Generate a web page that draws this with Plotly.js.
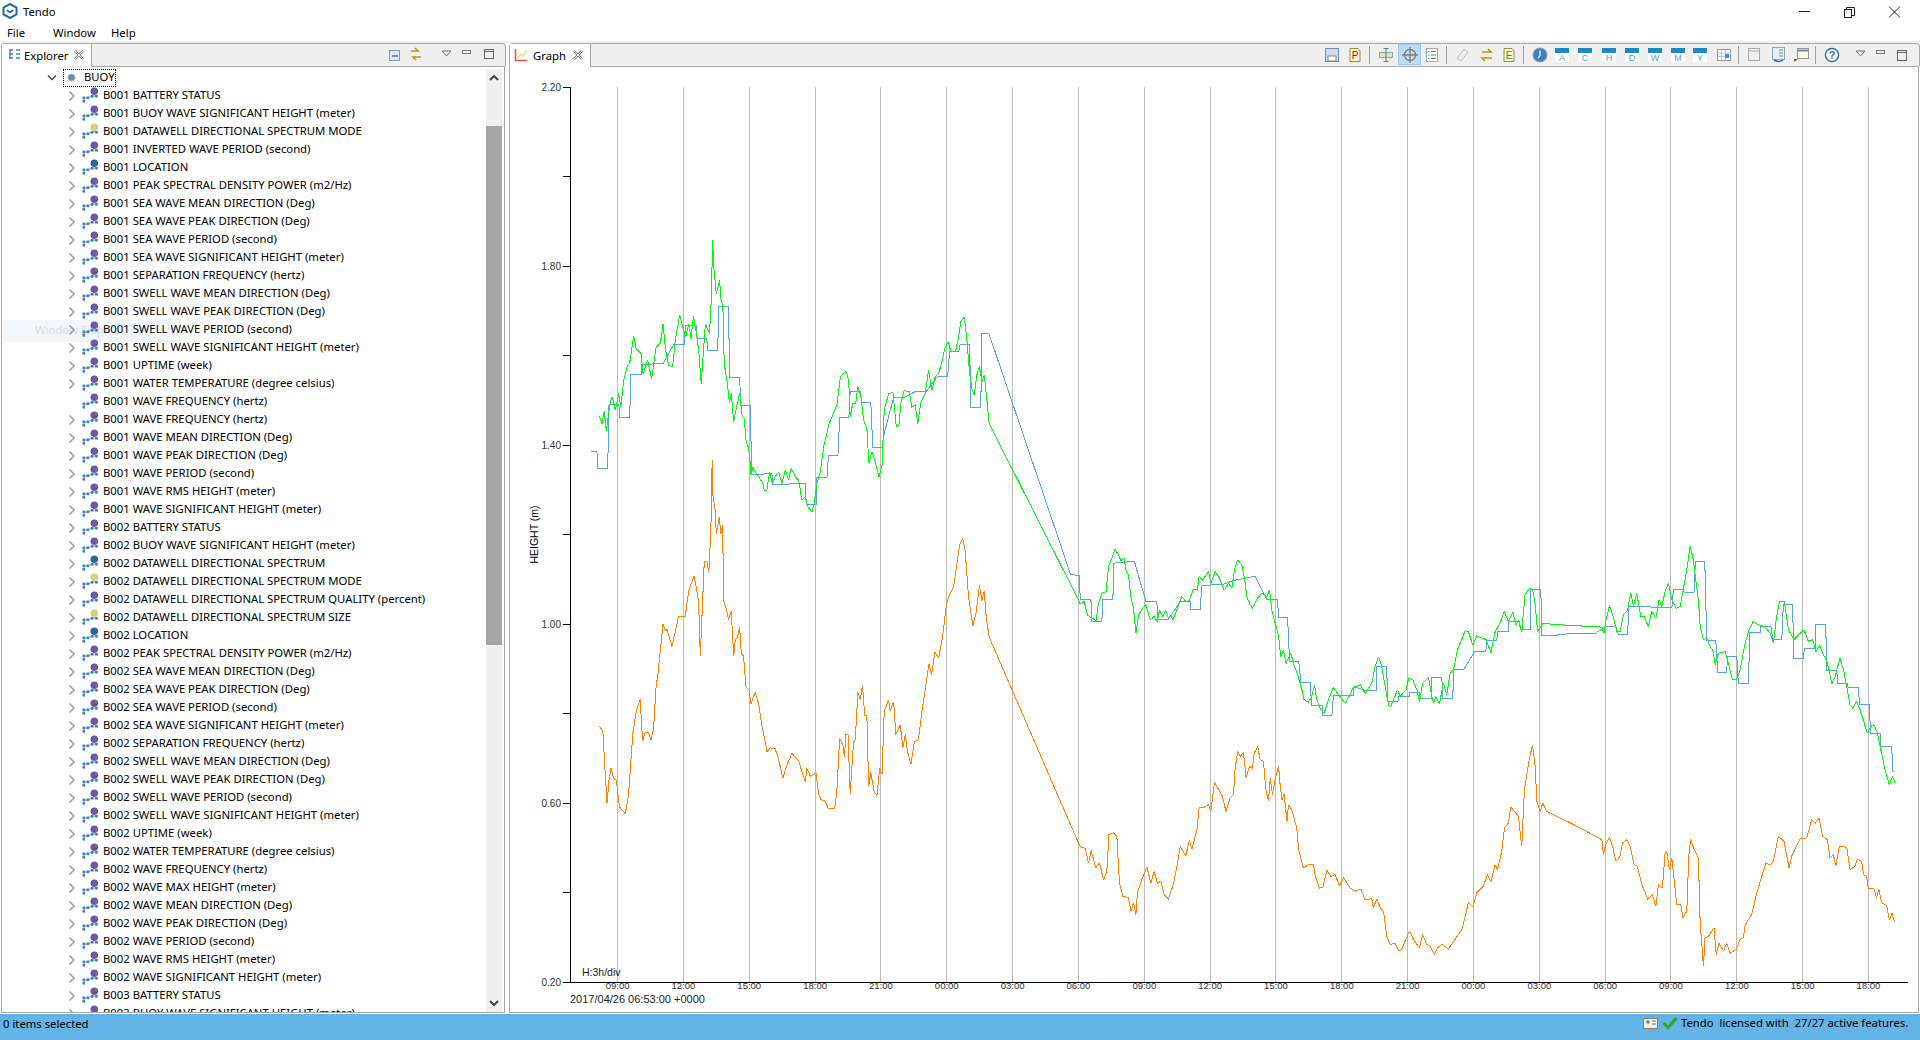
<!DOCTYPE html>
<html><head><meta charset="utf-8"><title>Tendo</title>
<script src="https://cdn.plot.ly/plotly-3.0.1.min.js"></script>
<style>
html,body{margin:0;padding:0;width:1920px;height:1040px;overflow:hidden;background:#fff;font-family:"Noto Sans",sans-serif;color:#000}
.abs{position:absolute;white-space:nowrap}
.t{font-size:11.3px;line-height:16px}
#plot{position:absolute;left:0;top:0;width:1920px;height:1040px;z-index:3;pointer-events:none}
#plot path.js-line{shape-rendering:crispEdges}
</style></head><body>
<div id="chrome"></div>
<div id="plot"></div>
<script>
// ---------- chart data: hours since 2017-04-26 00:00 UTC, height in metres ----------
const tickHours=[9,12,15,18,21,24,27,30,33,36,39,42,45,48,51,54,57,60,63,66];
const tickLabels=["09:00","12:00","15:00","18:00","21:00","00:00","03:00","06:00","09:00","12:00","15:00","18:00","21:00","00:00","03:00","06:00","09:00","12:00","15:00","18:00"];
const heightTicks=[0.2,0.4,0.6,0.8,1.0,1.2,1.4,1.6,1.8,2.0,2.2];
const heightTickLabels=["0.20","","0.60","","1.00","","1.40","","1.80","","2.20"];

const greenHours=[8.18,8.29,8.39,8.49,8.59,8.67,8.76,8.90,9.05,9.15,9.28,9.43,9.55,9.61,9.73,9.85,10.07,10.16,10.37,10.55,10.76,10.95,11.07,11.19,11.33,11.51,11.63,11.83,11.98,12.10,12.25,12.34,12.46,12.62,12.71,12.81,13.00,13.19,13.27,13.33,13.38,13.50,13.65,13.71,13.80,13.86,13.98,14.10,14.18,14.29,14.36,14.56,14.67,14.77,14.86,14.95,15.02,15.08,15.17,15.32,15.43,15.62,15.68,15.80,15.93,16.05,16.18,16.34,16.49,16.64,16.79,16.91,17.10,17.25,17.40,17.55,17.66,17.86,17.96,18.08,18.24,18.39,18.54,18.61,18.77,18.99,19.15,19.30,19.42,19.53,19.60,19.72,19.85,19.95,20.09,20.21,20.36,20.45,20.59,20.74,20.91,21.05,21.15,21.35,21.55,21.70,21.82,21.91,22.06,22.29,22.41,22.56,22.68,22.82,23.02,23.17,23.32,23.47,23.63,23.78,23.93,24.07,24.19,24.39,24.54,24.64,24.80,24.92,25.04,25.15,25.25,25.37,25.49,25.60,25.71,25.83,25.93,
30.00,30.08,30.26,30.41,30.61,30.81,30.91,31.07,31.26,31.37,31.52,31.67,31.83,31.93,32.08,32.18,32.28,32.39,32.51,32.62,32.74,32.89,33.07,33.27,33.45,33.60,33.69,33.85,33.98,34.10,34.21,34.30,34.48,34.71,34.91,35.02,35.24,35.42,35.50,35.65,35.93,36.03,36.23,36.43,36.64,36.84,36.99,37.11,37.26,37.44,37.57,37.67,37.82,37.93,38.16,38.36,38.58,38.71,38.81,38.96,39.12,39.22,39.34,39.46,39.68,39.80,39.99,40.18,40.28,40.48,40.63,40.76,40.86,41.04,41.20,41.39,41.62,41.85,42.15,42.38,42.53,42.84,43.06,43.37,43.52,43.67,43.82,43.98,44.13,44.23,44.35,44.54,44.66,44.93,45.04,45.24,45.42,45.54,45.69,45.95,46.10,46.18,46.28,46.45,46.63,46.78,46.94,47.09,47.27,47.47,47.62,47.77,47.97,
48.15,48.38,48.58,48.79,48.99,49.21,49.41,49.59,49.79,49.94,50.05,50.20,50.35,50.55,50.70,50.81,50.92,51.04,51.16,51.64,52.56,53.85,53.95,54.01,54.20,54.35,54.53,54.68,54.83,55.02,55.17,55.29,55.44,55.62,55.77,55.97,56.12,56.31,56.46,56.58,56.73,56.88,57.04,57.23,57.42,57.57,57.72,57.87,58.02,58.13,58.25,58.33,58.48,58.63,58.78,58.90,59.02,59.16,59.47,59.62,59.80,59.98,60.15,60.38,60.53,60.73,60.98,61.29,61.52,61.67,61.79,61.94,62.17,62.35,62.50,62.61,62.81,63.06,63.26,63.46,63.61,63.76,63.95,64.13,64.33,64.48,64.70,64.86,65.01,65.16,65.28,65.46,65.62,65.77,65.95,66.10,66.25,66.41,66.60,66.75,66.95,67.09,67.21];
const greenHeights=[1.464,1.447,1.476,1.431,1.470,1.496,1.508,1.478,1.515,1.485,1.545,1.575,1.583,1.604,1.643,1.615,1.604,1.560,1.589,1.548,1.619,1.627,1.671,1.612,1.578,1.575,1.634,1.690,1.664,1.641,1.671,1.638,1.688,1.641,1.604,1.537,1.671,1.649,1.723,1.857,1.798,1.738,1.768,1.727,1.708,1.582,1.545,1.493,1.515,1.452,1.470,1.515,1.467,1.459,1.407,1.396,1.374,1.333,1.351,1.336,1.329,1.314,1.299,1.299,1.340,1.314,1.329,1.340,1.314,1.344,1.322,1.348,1.329,1.322,1.277,1.284,1.262,1.251,1.269,1.314,1.340,1.396,1.426,1.444,1.463,1.489,1.552,1.560,1.566,1.545,1.463,1.493,1.493,1.531,1.508,1.455,1.437,1.359,1.385,1.362,1.329,1.355,1.478,1.515,1.517,1.441,1.444,1.493,1.522,1.519,1.485,1.489,1.448,1.496,1.515,1.567,1.522,1.552,1.560,1.586,1.619,1.630,1.608,1.608,1.641,1.675,1.686,1.634,1.560,1.526,1.511,1.556,1.576,1.541,1.556,1.500,1.448,
1.054,1.045,1.050,1.020,1.013,1.008,1.046,1.069,1.072,1.128,1.147,1.167,1.154,1.142,1.147,1.117,1.110,1.061,1.035,0.979,1.020,1.033,1.043,1.009,1.017,1.005,1.031,1.017,1.030,1.013,1.020,1.009,1.031,1.061,1.050,1.050,1.078,1.076,1.107,1.098,1.117,1.091,1.117,1.102,1.076,1.091,1.080,1.121,1.143,1.132,1.102,1.061,1.043,1.035,1.058,1.069,1.061,1.076,1.031,1.002,0.972,0.927,0.942,0.912,0.935,0.912,0.886,0.853,0.831,0.825,0.838,0.864,0.831,0.808,0.801,0.831,0.858,0.842,0.823,0.842,0.859,0.864,0.845,0.868,0.905,0.927,0.905,0.860,0.819,0.816,0.831,0.853,0.838,0.853,0.879,0.875,0.853,0.827,0.868,0.881,0.838,0.823,0.838,0.822,0.868,0.842,0.890,0.898,0.942,0.965,0.985,0.983,0.953,
0.973,0.968,0.965,0.936,0.983,1.002,1.028,1.005,1.026,0.998,1.009,0.983,1.065,1.080,1.076,1.046,0.983,0.991,1.002,0.999,0.996,0.993,0.979,1.002,1.042,1.020,0.983,0.983,1.020,1.031,1.069,1.039,1.069,1.017,1.017,0.994,1.028,1.013,1.054,1.039,1.072,1.091,1.054,1.035,1.039,1.080,1.121,1.173,1.143,1.098,1.054,0.994,0.965,0.968,0.950,0.942,0.909,0.935,0.938,0.912,0.875,0.875,0.898,0.957,0.983,1.005,0.998,0.994,0.979,0.957,1.009,1.050,1.050,0.987,0.976,0.965,0.976,0.987,0.961,0.965,0.938,0.953,0.931,0.912,0.866,0.883,0.924,0.898,0.860,0.819,0.812,0.827,0.808,0.782,0.756,0.771,0.775,0.756,0.712,0.674,0.641,0.659,0.645];

const blueHours=[7.80,8.06,8.09,8.55,8.58,8.61,9.06,9.09,9.55,9.61,10.07,10.11,11.07,11.55,12.04,12.10,12.59,12.62,13.07,13.10,13.56,13.62,14.06,14.10,14.56,14.62,15.05,15.11,16.03,16.08,16.79,16.84,17.55,17.60,18.05,18.08,18.54,18.61,19.04,19.12,19.54,19.60,20.06,20.13,20.54,20.63,21.05,21.15,21.58,22.06,22.55,23.06,23.55,24.04,24.13,24.54,24.61,25.04,25.10,25.55,25.60,25.92,
29.65,30.05,30.08,30.57,30.61,31.07,31.10,31.57,31.61,32.55,33.07,33.57,33.62,34.10,34.64,35.09,35.12,35.55,35.62,36.61,37.07,38.05,38.58,39.07,39.12,39.53,39.62,40.04,40.13,40.56,40.62,41.10,41.14,41.55,41.62,42.53,42.56,43.06,43.56,43.60,44.05,44.08,44.55,44.61,45.07,45.11,45.54,45.57,46.07,46.10,46.56,46.59,47.06,47.09,47.57,48.06,48.56,48.61,49.06,49.11,49.59,
49.62,50.10,50.13,50.58,50.61,51.07,51.11,51.83,51.87,52.94,53.54,54.00,54.48,54.61,55.02,55.09,56.05,56.12,57.04,57.11,57.57,57.60,58.05,58.11,58.54,58.63,59.04,59.13,59.54,59.57,60.00,60.07,60.53,60.59,61.06,61.09,61.55,61.64,62.05,62.12,62.55,62.58,63.03,63.08,63.57,63.60,64.05,64.10,64.55,64.60,65.04,65.08,65.54,65.59,66.04,66.09,66.53,66.57,67.06,67.10,67.15];
const blueHeights=[1.386,1.386,1.348,1.348,1.418,1.490,1.490,1.461,1.461,1.557,1.557,1.580,1.582,1.624,1.624,1.667,1.667,1.638,1.638,1.611,1.611,1.709,1.709,1.551,1.551,1.488,1.488,1.334,1.336,1.312,1.312,1.314,1.314,1.267,1.267,1.327,1.327,1.376,1.376,1.461,1.461,1.519,1.519,1.495,1.495,1.394,1.394,1.426,1.506,1.506,1.519,1.519,1.552,1.552,1.608,1.608,1.624,1.624,1.484,1.484,1.649,1.649,
1.110,1.109,1.054,1.054,1.006,1.006,1.054,1.054,1.136,1.140,1.051,1.051,1.011,1.011,1.050,1.050,1.033,1.033,1.086,1.089,1.097,1.107,1.054,1.054,1.015,1.015,0.917,0.917,0.870,0.870,0.819,0.819,0.796,0.796,0.841,0.841,0.860,0.852,0.852,0.906,0.906,0.826,0.826,0.839,0.839,0.848,0.848,0.834,0.834,0.881,0.881,0.834,0.834,0.899,0.899,0.939,0.939,0.964,0.964,0.984,0.984,
1.006,1.006,0.988,0.988,1.078,1.078,0.975,0.975,0.977,0.979,0.979,0.993,0.996,0.977,0.977,1.040,1.040,1.037,1.037,1.078,1.078,1.071,1.071,1.140,1.140,0.964,0.964,0.892,0.892,0.927,0.927,0.866,0.866,0.982,0.982,0.995,0.995,0.966,0.966,1.044,1.044,0.924,0.924,0.946,0.946,1.000,1.000,0.897,0.897,0.866,0.866,0.857,0.857,0.821,0.821,0.756,0.756,0.727,0.727,0.671,0.671];

const orangeHours=[8.18,8.33,8.43,8.52,8.61,8.70,8.82,8.94,9.09,9.35,9.50,9.61,9.69,9.85,10.03,10.14,10.26,10.41,10.52,10.64,10.75,10.84,10.95,11.07,11.19,11.25,11.48,11.66,11.78,12.08,12.24,12.49,12.59,12.69,12.77,12.84,12.95,13.07,13.16,13.25,13.31,13.35,13.44,13.50,13.63,13.71,13.79,13.83,13.95,14.06,14.18,14.29,14.36,14.47,14.56,14.64,14.74,14.85,14.99,15.08,15.27,15.43,15.58,15.73,15.81,15.96,16.18,16.34,16.53,16.72,16.94,17.25,17.40,17.55,17.63,17.78,18.04,18.16,18.27,18.46,18.61,18.89,18.99,19.12,19.27,19.34,19.40,19.50,19.60,19.75,19.83,19.95,20.06,20.16,20.26,20.36,20.44,20.54,20.69,20.82,20.94,21.05,21.15,21.35,21.42,21.58,21.68,21.88,22.00,22.11,22.21,22.37,22.52,22.71,22.87,23.09,23.19,23.31,23.46,23.63,23.82,23.96,24.08,24.31,24.46,24.58,24.73,24.84,24.99,25.19,25.34,25.49,25.60,25.71,25.80,25.93,
30.00,30.08,30.31,30.46,30.58,30.79,30.96,31.14,31.29,31.39,31.60,31.75,31.87,32.02,32.28,32.39,32.51,32.62,32.69,32.89,33.12,33.30,33.45,33.60,33.75,33.91,34.10,34.30,34.48,34.64,34.89,35.06,35.17,35.40,35.50,35.67,35.93,36.03,36.20,36.46,36.56,36.72,36.91,37.07,37.14,37.26,37.37,37.52,37.64,37.79,37.93,38.01,38.17,38.28,38.43,38.54,38.66,38.74,38.84,38.96,39.12,39.19,39.27,39.37,39.50,39.57,39.72,39.95,40.03,40.25,40.48,40.71,40.79,40.98,41.14,41.32,41.50,41.70,41.89,42.08,42.38,42.61,42.87,43.06,43.37,43.44,43.60,43.75,43.90,44.05,44.20,44.43,44.61,44.73,44.93,45.08,45.27,45.54,45.68,45.87,46.02,46.21,46.36,46.56,46.86,47.16,47.47,47.62,47.77,47.97,48.15,48.45,48.64,48.79,48.99,49.09,49.21,
49.29,49.41,49.59,49.70,49.90,50.05,50.20,50.32,50.43,50.55,50.69,50.81,50.89,51.04,51.16,51.34,52.56,53.85,53.92,54.03,54.20,54.35,54.50,54.68,54.80,54.99,55.14,55.32,55.47,55.67,55.94,56.15,56.31,56.43,56.61,56.73,56.81,56.93,57.04,57.19,57.26,57.45,57.54,57.72,57.81,57.90,58.02,58.25,58.33,58.48,58.55,58.71,58.96,59.06,59.19,59.39,59.54,59.69,59.97,60.15,60.30,60.38,60.68,60.91,61.14,61.32,61.52,61.67,61.89,62.15,62.38,62.50,62.88,63.19,63.41,63.57,63.75,63.91,64.13,64.25,64.40,64.51,64.67,64.86,65.01,65.16,65.39,65.49,65.69,65.77,65.92,65.99,66.25,66.37,66.47,66.60,66.83,66.95,67.07,67.19];
const orangeHeights=[0.772,0.760,0.672,0.600,0.651,0.678,0.655,0.651,0.591,0.576,0.617,0.685,0.753,0.805,0.832,0.738,0.758,0.758,0.741,0.766,0.856,0.890,0.950,0.999,0.984,0.988,0.950,0.992,1.016,1.016,1.074,1.108,1.078,1.052,0.928,1.001,1.139,1.139,1.116,1.206,1.367,1.283,1.257,1.202,1.238,1.202,1.221,1.052,1.035,1.010,1.028,0.928,0.963,0.971,0.994,0.933,0.928,0.860,0.852,0.822,0.847,0.822,0.771,0.736,0.715,0.723,0.721,0.698,0.655,0.685,0.711,0.694,0.668,0.647,0.677,0.660,0.668,0.621,0.608,0.604,0.587,0.587,0.625,0.745,0.728,0.702,0.753,0.753,0.621,0.736,0.741,0.847,0.830,0.864,0.796,0.796,0.638,0.668,0.625,0.617,0.677,0.664,0.805,0.830,0.805,0.826,0.753,0.775,0.723,0.753,0.715,0.687,0.736,0.741,0.805,0.873,0.911,0.886,0.937,0.924,0.975,1.035,1.061,1.082,1.139,1.176,1.191,1.163,1.061,0.995,1.027,1.086,1.052,1.074,1.014,0.971,
0.511,0.503,0.498,0.466,0.494,0.455,0.466,0.429,0.444,0.529,0.533,0.526,0.421,0.392,0.388,0.358,0.377,0.351,0.399,0.429,0.457,0.421,0.447,0.421,0.425,0.395,0.386,0.414,0.455,0.503,0.482,0.517,0.497,0.540,0.589,0.589,0.596,0.581,0.646,0.622,0.615,0.581,0.611,0.619,0.678,0.715,0.704,0.713,0.656,0.682,0.678,0.712,0.726,0.697,0.693,0.630,0.604,0.656,0.619,0.652,0.682,0.641,0.607,0.621,0.559,0.596,0.585,0.544,0.496,0.455,0.462,0.462,0.436,0.410,0.412,0.450,0.436,0.440,0.415,0.433,0.410,0.403,0.408,0.384,0.386,0.366,0.386,0.366,0.358,0.302,0.284,0.286,0.269,0.273,0.299,0.314,0.295,0.276,0.306,0.284,0.280,0.261,0.276,0.284,0.274,0.295,0.317,0.347,0.377,0.368,0.399,0.414,0.440,0.425,0.462,0.451,0.477,
0.492,0.544,0.555,0.591,0.578,0.570,0.503,0.630,0.663,0.700,0.729,0.682,0.604,0.581,0.600,0.581,0.552,0.518,0.485,0.508,0.524,0.500,0.470,0.481,0.511,0.518,0.503,0.462,0.459,0.418,0.386,0.395,0.369,0.418,0.410,0.488,0.492,0.451,0.477,0.414,0.373,0.373,0.343,0.358,0.481,0.520,0.500,0.477,0.332,0.235,0.299,0.302,0.321,0.261,0.287,0.269,0.287,0.264,0.273,0.295,0.299,0.328,0.351,0.399,0.436,0.466,0.462,0.470,0.526,0.514,0.455,0.481,0.520,0.522,0.563,0.555,0.566,0.526,0.518,0.477,0.485,0.459,0.503,0.503,0.500,0.451,0.459,0.474,0.470,0.440,0.436,0.408,0.408,0.388,0.407,0.377,0.371,0.338,0.354,0.334];

// ---------- tree labels ----------
const treeItems=["B001 BATTERY STATUS","B001 BUOY WAVE SIGNIFICANT HEIGHT (meter)","B001 DATAWELL DIRECTIONAL SPECTRUM MODE","B001 INVERTED WAVE PERIOD (second)","B001 LOCATION","B001 PEAK SPECTRAL DENSITY POWER (m2/Hz)","B001 SEA WAVE MEAN DIRECTION (Deg)","B001 SEA WAVE PEAK DIRECTION (Deg)","B001 SEA WAVE PERIOD (second)","B001 SEA WAVE SIGNIFICANT HEIGHT (meter)","B001 SEPARATION FREQUENCY (hertz)","B001 SWELL WAVE MEAN DIRECTION (Deg)","B001 SWELL WAVE PEAK DIRECTION (Deg)","B001 SWELL WAVE PERIOD (second)","B001 SWELL WAVE SIGNIFICANT HEIGHT (meter)","B001 UPTIME (week)","B001 WATER TEMPERATURE (degree celsius)","B001 WAVE FREQUENCY (hertz)","B001 WAVE FREQUENCY (hertz)","B001 WAVE MEAN DIRECTION (Deg)","B001 WAVE PEAK DIRECTION (Deg)","B001 WAVE PERIOD (second)","B001 WAVE RMS HEIGHT (meter)","B001 WAVE SIGNIFICANT HEIGHT (meter)","B002 BATTERY STATUS","B002 BUOY WAVE SIGNIFICANT HEIGHT (meter)","B002 DATAWELL DIRECTIONAL SPECTRUM","B002 DATAWELL DIRECTIONAL SPECTRUM MODE","B002 DATAWELL DIRECTIONAL SPECTRUM QUALITY (percent)","B002 DATAWELL DIRECTIONAL SPECTRUM SIZE","B002 LOCATION","B002 PEAK SPECTRAL DENSITY POWER (m2/Hz)","B002 SEA WAVE MEAN DIRECTION (Deg)","B002 SEA WAVE PEAK DIRECTION (Deg)","B002 SEA WAVE PERIOD (second)","B002 SEA WAVE SIGNIFICANT HEIGHT (meter)","B002 SEPARATION FREQUENCY (hertz)","B002 SWELL WAVE MEAN DIRECTION (Deg)","B002 SWELL WAVE PEAK DIRECTION (Deg)","B002 SWELL WAVE PERIOD (second)","B002 SWELL WAVE SIGNIFICANT HEIGHT (meter)","B002 UPTIME (week)","B002 WATER TEMPERATURE (degree celsius)","B002 WAVE FREQUENCY (hertz)","B002 WAVE MAX HEIGHT (meter)","B002 WAVE MEAN DIRECTION (Deg)","B002 WAVE PEAK DIRECTION (Deg)","B002 WAVE PERIOD (second)","B002 WAVE RMS HEIGHT (meter)","B002 WAVE SIGNIFICANT HEIGHT (meter)","B003 BATTERY STATUS","B003 BUOY WAVE SIGNIFICANT HEIGHT (meter)"];

// ---------- application frame (plain HTML around the chart) ----------
let h='';
const box=(l,t,w,ht,s)=>`<div class="abs" style="left:${l}px;top:${t}px;width:${w}px;height:${ht}px;${s}"></div>`;
const txt=(l,t,s,c='',fs=11.3)=>`<div class="abs" style="left:${l}px;top:${t}px;font-size:${fs}px;line-height:16px;${c}">${s}</div>`;
const svg=(l,t,w,ht,b)=>`<svg class="abs" style="left:${l}px;top:${t}px" width="${w}" height="${ht}" viewBox="0 0 ${w} ${ht}">${b}</svg>`;
// title bar & menu
h+=svg(2,3,16,16,'<path d="M8 1 L14.5 4.5 V11.5 L8 15 L1.5 11.5 V4.5Z" fill="#fff" stroke="#1f6f9f" stroke-width="2"/><path d="M5 7 Q8 11 11 7" fill="none" stroke="#1f6f9f" stroke-width="2"/>');
h+=txt(23,4,'Tendo');
h+=txt(7,25,'File')+txt(53,25,'Window')+txt(111,25,'Help');
h+=svg(1797,5,110,14,'<path d="M2 6.5H13" stroke="#222"/><rect x="47.5" y="4.5" width="7" height="8" fill="none" stroke="#222"/><path d="M49.5 4.5V2.5H57.5V10.5H54.5" fill="none" stroke="#222"/><path d="M92 1.5L103 12.5M103 1.5L92 12.5" stroke="#222"/>');
// panels
h+=box(0,41,1920,3,'background:#f0f0f0');
h+=box(1,43,503,22,'background:#f0f0f0;border:1px solid #a8a8a8;border-bottom:none;border-radius:4px 4px 0 0');
h+=box(1,66,504,947,'background:#fff;border:1px solid #a8a8a8;box-sizing:border-box');
h+=box(2,44,89,22,'background:#fff;border-right:1px solid #a8a8a8');
h+=box(509,43,1409,22,'background:#f0f0f0;border:1px solid #a8a8a8;border-bottom:none;border-radius:4px 4px 0 0');
h+=box(509,66,1410,947,'background:#fff;border:1px solid #a8a8a8;box-sizing:border-box');
h+=box(510,44,80,22,'background:#fff;border-right:1px solid #a8a8a8');
h+=box(510,65,80,2,'background:#fff');
h+=box(2,65,89,2,'background:#fff');
h+=svg(7,48,14,14,'<path d="M2 2H6M2 6H6M2 10H6M9 2H13M9 6H13M9 10H13M3 2V11" stroke="#5b7fa6" stroke-width="1.4" fill="none"/>');
h+=txt(24,48,'Explorer');
h+=svg(73,49,12,12,'<path d="M2 2L10 10M10 2L2 10" stroke="#777" stroke-width="2.4"/><path d="M2 2L10 10M10 2L2 10" stroke="#fff" stroke-width="1"/>');
h+=svg(514,48,14,14,'<path d="M1.5 1V12.5H13" stroke="#ef5050" stroke-width="1.6" fill="none"/><path d="M2.5 11L7 6L9 8L13 2" stroke="#dfe88a" stroke-width="1.4" fill="none"/>');
h+=txt(533,48,'Graph');
h+=svg(572,49,12,12,'<path d="M2 2L10 10M10 2L2 10" stroke="#777" stroke-width="2.4"/><path d="M2 2L10 10M10 2L2 10" stroke="#fff" stroke-width="1"/>');
// explorer toolbar
h+=svg(388,47,62,16,'<rect x="1.5" y="3.5" width="10" height="10" fill="#dfe8f2" stroke="#7d9cc0"/><path d="M4 9H10" stroke="#47709e" stroke-width="1.4"/><path d="M23 4H30L27 1M33 10H25L28 13" stroke="#c8930f" stroke-width="1.6" fill="none"/>');
h+=svg(440,48,50,12,'<path d="M2 3H11L6.5 8Z" fill="none" stroke="#777"/><rect x="22.5" y="2.5" width="8" height="3" fill="none" stroke="#777"/>');
h+=svg(484,48,12,12,'<rect x=".5" y="1.5" width="9" height="9" fill="none" stroke="#666"/><path d="M.5 3.5H9.5" stroke="#666"/>');
// faded snip hint (sits under the tree rows)
h+=box(3,320,173,22,'background:#f1f7fc');
h+=txt(35,322,'Window Snip','color:#d6dde3');
// scrollbar
h+=box(486,69,16,943,'background:#f0f0f0');
h+=box(486,126,16,519,'background:#a6a6a6');
h+=svg(488,73,12,10,'<path d="M2 7L6 3L10 7" fill="none" stroke="#444" stroke-width="2"/>');
h+=svg(488,998,12,10,'<path d="M2 3L6 7L10 3" fill="none" stroke="#444" stroke-width="2"/>');
// tree
h+=svg(46,72,12,12,'<path d="M2 3.5L6 7.5L10 3.5" fill="none" stroke="#444" stroke-width="1.5"/>');
h+=box(63,69,53,18,'border:1px dotted #000;box-sizing:border-box');
h+=svg(66,72,12,12,'<circle cx="5.5" cy="5.5" r="3.6" fill="#5f8fb8" stroke="#a9c4da"/>');
h+=`<div class="abs t" style="left:84px;top:69px">BUOY</div>`;
const icon=(y,col)=>svg(81,y,18,16,`<path d="M3 14V11H7M7 11L11 9M11 9H16" stroke="#6aa0c8" stroke-width="1" fill="none"/><rect x="1.5" y="13" width="2.6" height="2.6" fill="#3d82b5"/><rect x="1.5" y="9.5" width="2.6" height="2.6" fill="#3d82b5"/><rect x="5.5" y="9.5" width="2.6" height="2.6" fill="#3d82b5"/><rect x="9.8" y="8" width="2.6" height="2.6" fill="#3d82b5"/><rect x="14.2" y="8" width="2.6" height="2.6" fill="#3d82b5"/><circle cx="13.3" cy="4.2" r="3.8" fill="${col}"/>`);
const chev=(y)=>svg(67,y,10,12,'<path d="M2.5 1.5L7 6L2.5 10.5" fill="none" stroke="#a0a0a0" stroke-width="1.6"/>');
h+=`<div class="abs" style="left:0;top:86px;width:484px;height:926px;overflow:hidden" id="treeClip">`;
treeItems.forEach((name,i)=>{
  const top=i*18;
  let col='#7058a8';
  if(/SPECTRUM (MODE|SIZE)/.test(name)) col='#d4d07c';
  if(/LOCATION$|SPECTRUM$/.test(name)) col='#2f6391';
  if(i!==17) h+=chev(top+4);
  h+=icon(top+1,col);
  h+=`<div class="abs t" style="left:103px;top:${top+1}px">${name}</div>`;
});
h+=`</div>`;
// graph toolbar
const tx=[1332,1355,1386,1410,1432,1462,1486,1509,1540,1562,1585,1609,1632,1655,1678,1700,1724,1754,1779,1802,1832];
const tk=['save','P','cur','target','list','erase','sync','E','clock','A','C','H','D','W','M','Y','cal','p1','p2','p3','help'];
h+=box(1398,44,23,21,'background:#bcdcf5;border:1px solid #9cc8ee;box-sizing:border-box');
[1369,1446,1523,1738,1815].forEach(x=>h+=box(x,46,1,18,'background:#a0a0a0'));
tx.forEach((x,i)=>{
  const k=tk[i];let b='';
  if(k==='save')b='<rect x="1.5" y="1.5" width="13" height="13" fill="#cfdcec" stroke="#6d8cb0"/><rect x="4" y="9" width="8" height="5" fill="#fff" stroke="#8a8a8a"/>';
  else if(k==='P'||k==='E')b=`<path d="M3 1.5H11L13 4V14.5H3Z" fill="#fbf5dc" stroke="#a08a3c"/><text x="8" y="12" font-size="10" text-anchor="middle" font-family="Liberation Sans" fill="${k==='P'?'#d00000':'#00b000'}">${k}</text>`;
  else if(k==='cur')b='<rect x="1.5" y="5.5" width="13" height="5" fill="#e8e0b0" stroke="#8aa"/><path d="M8 1V15M5.5 1.5H10.5M5.5 14.5H10.5" stroke="#4a78a8"/>';
  else if(k==='target')b='<circle cx="8" cy="8" r="5.5" fill="none" stroke="#808080" stroke-width="1.4"/><path d="M8 0V16M0 8H16" stroke="#808080" stroke-width="1.4"/>';
  else if(k==='list')b='<rect x="2.5" y="1.5" width="11" height="13" fill="#fff" stroke="#9ab"/><path d="M4 4.5H5.5M7 4.5H12M4 8H5.5M7 8H12M4 11.5H5.5M7 11.5H12" stroke="#4c9a5c"/>';
  else if(k==='erase')b='<path d="M3 11L10 2L14 5L7 14Z" fill="#eee" stroke="#c0c0c0"/>';
  else if(k==='sync')b='<path d="M4 5H13L10 2M14 11H4L7 14" stroke="#c8930f" stroke-width="1.6" fill="none"/>';
  else if(k==='clock')b='<circle cx="8" cy="8" r="7" fill="#3b7fc4" stroke="#999" stroke-width="1.2"/><path d="M8 3.5V8.5L6 11" stroke="#fff" stroke-width="1.2" fill="none"/>';
  else if(k==='cal')b='<rect x="1.5" y="2.5" width="13" height="11" fill="#fff" stroke="#999"/><path d="M1.5 6H14.5M5.5 3V13M9.5 3V13M2 9.5H14" stroke="#c8c8c8"/><rect x="9" y="7" width="4" height="4" fill="#5b86e0"/>';
  else if(k==='p1')b='<rect x="2.5" y="1.5" width="11" height="12" fill="none" stroke="#a8a8a8"/><path d="M2.5 4H13.5" stroke="#a8a8a8"/>';
  else if(k==='p2')b='<rect x="1.5" y="0.5" width="12" height="12" fill="#e6eef6" stroke="#8aa"/><path d="M8 3H12M8 6H12M8 9H12" stroke="#888"/><path d="M3 13Q8 16 12 13" stroke="#2c70a8" fill="none" stroke-width="1.5"/>';
  else if(k==='p3')b='<rect x="3.5" y="1.5" width="11" height="10" fill="#fdf8e0" stroke="#998"/><path d="M3.5 3.5H14.5" stroke="#5a8fc4" stroke-width="2"/><path d="M0 12L4 12L0 15Z" fill="#2c70a8"/>';
  else if(k==='help')b='<circle cx="8" cy="8" r="6.6" fill="#fff" stroke="#3b6fa8" stroke-width="1.5"/><text x="8" y="12" font-size="11" font-weight="bold" text-anchor="middle" font-family="Liberation Sans" fill="#3b6fa8">?</text>';
  else b=`<rect x="1" y="1" width="14" height="14" fill="#fff"/><rect x="1" y="1" width="14" height="5" fill="#1c88c4"/><text x="8" y="14" font-size="9" text-anchor="middle" font-family="Liberation Sans" fill="#4fa3d8">${k}</text>`;
  h+=svg(x-8,47,16,16,b);
});
h+=svg(1855,49,56,12,'<path d="M1 2H10L5.5 7Z" fill="none" stroke="#777"/><rect x="21.5" y="1.5" width="8" height="3" fill="none" stroke="#777"/><rect x="42.5" y="1.5" width="9" height="10" fill="none" stroke="#666"/><path d="M42.5 3.5H51.5" stroke="#666"/>');
// status bar
h+=box(0,1014,1920,26,'background:#63b4e6');
h+=txt(3,1016,'0 items selected');
h+=svg(1643,1018,16,12,'<rect x=".5" y=".5" width="14" height="10" fill="#f5f0e0" stroke="#8a8464"/><circle cx="5" cy="4" r="1.8" fill="#6a7fa0"/><path d="M9 3H13M9 6H13" stroke="#6a7fa0"/>');
h+=svg(1662,1016,16,14,'<path d="M1.5 7L6 11.5L14.5 2" fill="none" stroke="#34a02c" stroke-width="3"/>');
h+=txt(1681,1015,'Tendo&nbsp; licensed with&nbsp; 27/27 active features.');
document.getElementById('chrome').innerHTML=h;

// ---------- the chart ----------
const FONT='"Liberation Sans",Arial,sans-serif';
const traces=[
 {x:orangeHours,y:orangeHeights,name:'orange',mode:'lines',line:{color:'#ff8500',width:1}},
 {x:blueHours,y:blueHeights,name:'blue',mode:'lines',line:{color:'#55a5dc',width:1}},
 {x:greenHours,y:greenHeights,name:'green',mode:'lines',line:{color:'#00f810',width:1}}
];
const layout={
 width:1920,height:1040,showlegend:false,
 paper_bgcolor:'rgba(0,0,0,0)',plot_bgcolor:'rgba(0,0,0,0)',
 margin:{l:571,r:12,t:86.5,b:58,pad:0},
 font:{family:FONT,size:10,color:'#333'},
 xaxis:{type:'linear',range:[6.878,67.8],tickmode:'array',tickvals:tickHours,ticktext:tickLabels,
   showgrid:true,gridcolor:'#bcbcbc',gridwidth:1,zeroline:false,showline:true,linecolor:'#000',linewidth:1,
   ticks:'',tickfont:{family:FONT,size:9.5,color:'#333'},ticklabelstandoff:-5,automargin:false},
 yaxis:{type:'linear',range:[0.2,2.2],tickmode:'array',tickvals:heightTicks,ticktext:heightTickLabels,
   showgrid:false,zeroline:false,showline:true,linecolor:'#000',linewidth:1,
   ticks:'outside',ticklen:7,tickwidth:1,tickcolor:'#000',tickfont:{family:FONT,size:10,color:'#333'},
   title:{text:'HEIGHT (m)',font:{family:FONT,size:10.5,color:'#000'},standoff:0},automargin:false},
 annotations:[
  {xref:'paper',yref:'paper',x:0,xshift:9,y:0,yshift:10,xanchor:'left',yanchor:'middle',text:'H:3h/div',showarrow:false,font:{family:FONT,size:10.5,color:'#222'}},
  {xref:'paper',yref:'paper',x:0,xshift:-3,y:0,yshift:-17,xanchor:'left',yanchor:'middle',text:'2017/04/26 06:53:00 +0000',showarrow:false,font:{family:FONT,size:11,color:'#222'}}
 ]
};
Plotly.newPlot('plot',traces,layout,{displayModeBar:false,staticPlot:true});
</script>
</body></html>
